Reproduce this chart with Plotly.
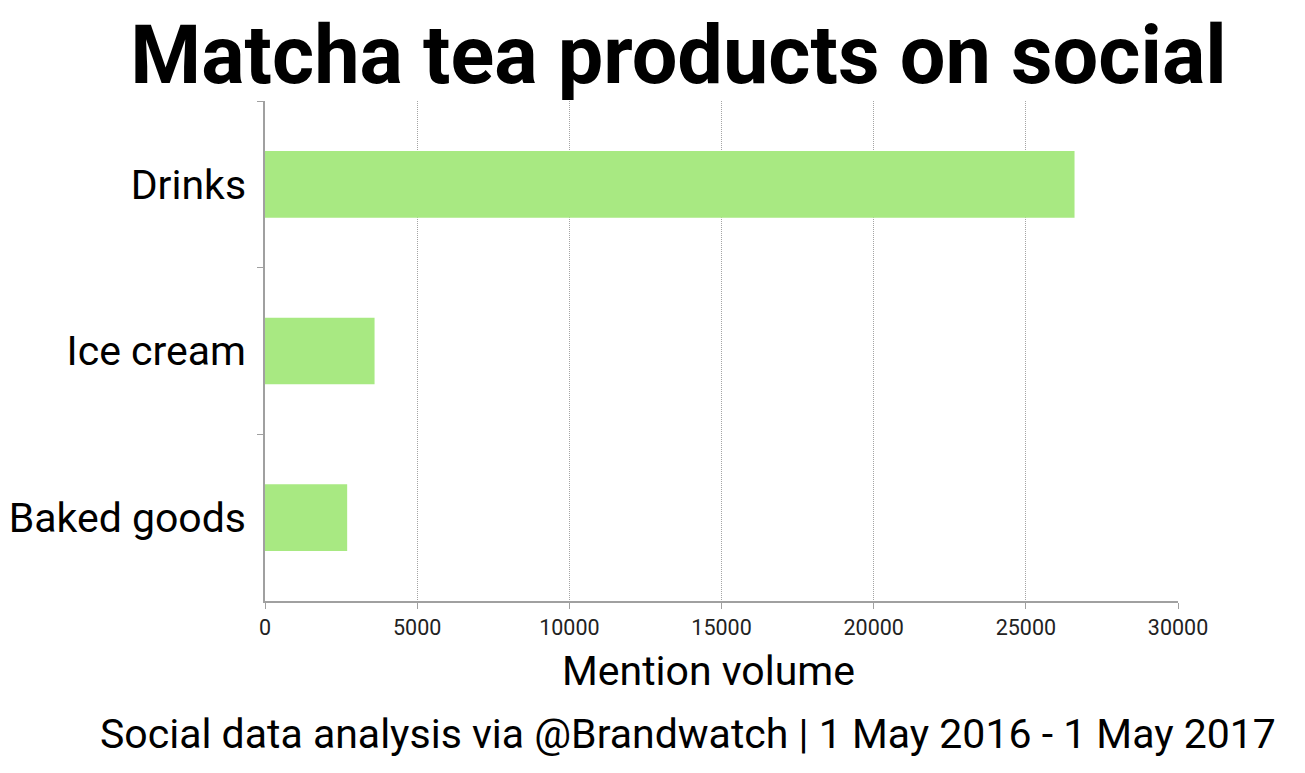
import plotly.graph_objects as go

categories = ["Drinks", "Ice cream", "Baked goods"]
mentions = [26600, 3600, 2700]
x_ticks = [0, 5000, 10000, 15000, 20000, 25000, 30000]

title_text = "Matcha tea products on social"
x_title = "Mention volume"
source_text = "Social data analysis via @Brandwatch | 1 May 2016 - 1 May 2017"

fig = go.Figure()
fig.add_trace(go.Bar(
    x=mentions,
    y=categories,
    orientation="h",
    width=0.4,
    marker=dict(color="#a8e982", line=dict(width=0)),
    hoverinfo="x+y",
))

fig.update_layout(
    width=1305,
    height=773,
    margin=dict(l=257, r=135, t=93, b=180, autoexpand=False),
    paper_bgcolor="white",
    plot_bgcolor="white",
    showlegend=False,
    font=dict(family="Roboto", color="black"),
    title=dict(
        text="<b>" + title_text + "</b>",
        x=(677.5 - 7) / 1305, xanchor="center",
        y=1 - 47 / 773, yanchor="middle",
        font=dict(family="Roboto", size=81, color="black"),
    ),
    annotations=[
        dict(text=x_title, xref="paper", yref="paper",
             x=(707.5 - 264) / 913, y=-0.14, xanchor="center", yanchor="middle",
             showarrow=False, font=dict(family="Roboto", size=41, color="black")),
        dict(text=source_text, xref="paper", yref="paper",
             x=(687 - 264) / 913, y=-0.266, xanchor="center", yanchor="middle",
             showarrow=False, font=dict(family="Roboto", size=41, color="black")),
    ],
)

fig.update_xaxes(
    range=[0, 30000],
    tickvals=x_ticks,
    ticktext=[str(v) for v in x_ticks],
    showgrid=True,
    gridcolor="#a4a4a4",
    griddash="1px,1px",
    gridwidth=1,
    showline=True,
    linecolor="#a0a0a0",
    linewidth=1.5,
    ticks="outside",
    ticklen=6,
    tickcolor="#a0a0a0",
    tickfont=dict(family="Roboto", size=21.5, color="#222222"),
    zeroline=False,
    automargin=False,
    fixedrange=True,
)

fig.update_yaxes(
    categoryorder="array",
    categoryarray=categories,
    autorange="reversed",
    tickson="boundaries",
    showline=True,
    linecolor="#a0a0a0",
    linewidth=1.5,
    ticks="outside",
    ticklen=6,
    tickcolor="#a0a0a0",
    ticklabelstandoff=9,
    tickfont=dict(family="Roboto", size=41, color="black"),
    showgrid=False,
    automargin=False,
    fixedrange=True,
)

fig.write_html("out.html")
